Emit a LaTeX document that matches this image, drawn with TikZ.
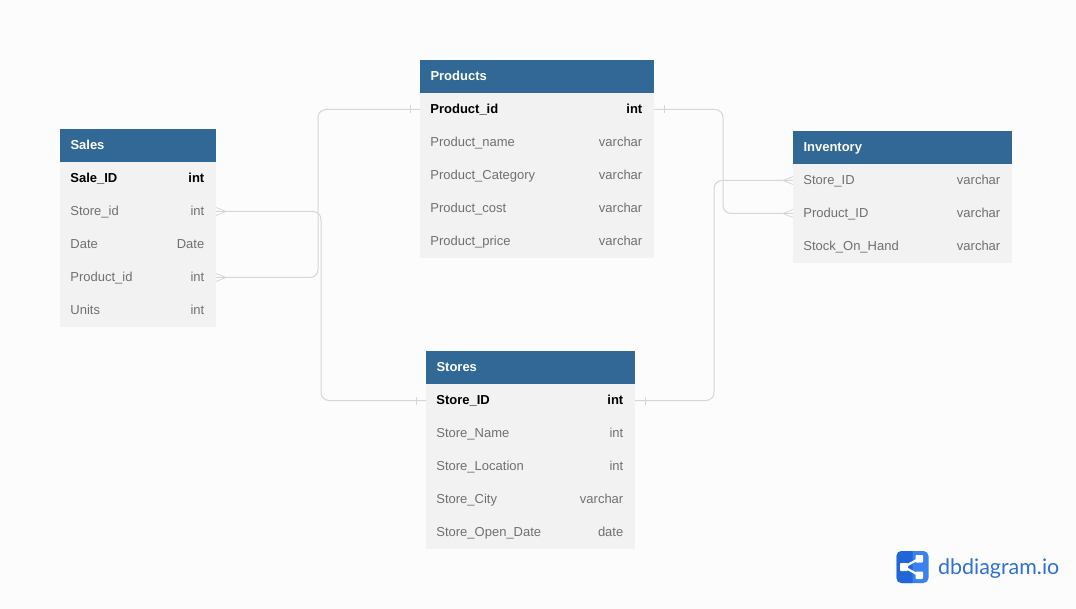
\documentclass[tikz,border=0pt]{standalone}
\usepackage{fontspec}
\setmainfont{Liberation Sans}
\newfontfamily\logofont{Lato}
\definecolor{pagebg}{HTML}{FCFCFC}
\definecolor{headblue}{HTML}{316896}
\definecolor{rowbg}{HTML}{F2F2F2}
\definecolor{fieldgray}{HTML}{707070}
\definecolor{linkgray}{HTML}{D6D6D6}
\definecolor{logoblue}{HTML}{2F6FD6}
\definecolor{logodark}{HTML}{2265D8}
\definecolor{logolight}{HTML}{3B82EE}
\tikzset{
  x=1pt,y=-1pt,
  headbox/.style={fill=headblue,draw=none,anchor=north west,inner sep=0,outer sep=0},
  rowbox/.style={fill=rowbg,draw=none,anchor=north west,inner sep=0,outer sep=0},
  headtext/.style={anchor=base west,inner sep=0,text=white,font=\fontsize{13}{15}\selectfont\bfseries},
  nametext/.style={anchor=base west,inner sep=0,text=fieldgray,font=\fontsize{13}{15}\selectfont},
  typetext/.style={anchor=base east,inner sep=0,text=fieldgray,font=\fontsize{13}{15}\selectfont},
  pkname/.style={nametext,text=black,font=\fontsize{13}{15}\selectfont\bfseries},
  pktype/.style={typetext,text=black,font=\fontsize{13}{15}\selectfont\bfseries},
  link/.style={draw=linkgray,line width=1pt,rounded corners=8pt},
  tickmark/.style={draw=linkgray,line width=0.8pt},
}
% \headrow{id}{x}{y}{w}{title}
\newcommand{\headrow}[5]{%
  \node[headbox,minimum width=#4pt,minimum height=33pt] (#1) at (#2,#3) {};
  \node[headtext] (#1-t) at ({#2+10.3},{#3+20.3}) {#5};
}
% \fieldrow{id}{x}{y}{w}{name}{type}{namestyle}{typestyle}
\newcommand{\fieldrow}[8]{%
  \node[rowbox,minimum width=#4pt,minimum height=33pt] (#1) at (#2,#3) {};
  \node[#7] (#1-n) at ({#2+10.2},{#3+20.8}) {#5};
  \node[#8] (#1-y) at ({#2+#4-11.5},{#3+20.8}) {#6};
}
\begin{document}
\begin{tikzpicture}
\path[fill=pagebg] (0,0) rectangle (1076,609);
\useasboundingbox (0,0) rectangle (1076,609);

% Sales
\headrow{sales}{60}{129}{156}{Sales}
\fieldrow{saleid}{60}{162}{156}{Sale\_ID}{int}{pkname}{pktype}
\fieldrow{salestore}{60}{195}{156}{Store\_id}{int}{nametext}{typetext}
\fieldrow{saledate}{60}{228}{156}{Date}{Date}{nametext}{typetext}
\fieldrow{saleprod}{60}{261}{156}{Product\_id}{int}{nametext}{typetext}
\fieldrow{saleunits}{60}{294}{156}{Units}{int}{nametext}{typetext}

% Products
\headrow{products}{420}{60}{234}{Products}
\fieldrow{prodid}{420}{93}{234}{Product\_id}{int}{pkname}{pktype}
\fieldrow{prodname}{420}{126}{234}{Product\_name}{varchar}{nametext}{typetext}
\fieldrow{prodcat}{420}{159}{234}{Product\_Category}{varchar}{nametext}{typetext}
\fieldrow{prodcost}{420}{192}{234}{Product\_cost}{varchar}{nametext}{typetext}
\fieldrow{prodprice}{420}{225}{234}{Product\_price}{varchar}{nametext}{typetext}

% Stores
\headrow{stores}{426}{351}{209}{Stores}
\fieldrow{storeid}{426}{384}{209}{Store\_ID}{int}{pkname}{pktype}
\fieldrow{storename}{426}{417}{209}{Store\_Name}{int}{nametext}{typetext}
\fieldrow{storeloc}{426}{450}{209}{Store\_Location}{int}{nametext}{typetext}
\fieldrow{storecity}{426}{483}{209}{Store\_City}{varchar}{nametext}{typetext}
\fieldrow{storeopen}{426}{516}{209}{Store\_Open\_Date}{date}{nametext}{typetext}

% Inventory
\headrow{inventory}{793}{131}{219}{Inventory}
\fieldrow{invstore}{793}{164}{219}{Store\_ID}{varchar}{nametext}{typetext}
\fieldrow{invprod}{793}{197}{219}{Product\_ID}{varchar}{nametext}{typetext}
\fieldrow{invstock}{793}{230}{219}{Stock\_On\_Hand}{varchar}{nametext}{typetext}

% Connectors
\draw[link] (salestore.east) -- ++(105,0) |- (storeid.west);
\draw[link] (saleprod.east) -- ++(102,0) |- (prodid.west);
\draw[link] (prodid.east) -- ++(69,0) |- (invprod.west);
\draw[link] (storeid.east) -- ++(79,0) |- (invstore.west);

% Crow's feet (many side): y runs downward in this picture
\foreach \n in {salestore,saleprod}{
  \draw[tickmark] ([yshift=4pt]\n.east) -- ++(10,4) -- ++(-10,4);
}
\foreach \n in {invstore,invprod}{
  \draw[tickmark] ([yshift=4pt]\n.west) -- ++(-10,4) -- ++(10,4);
}
% Single bars (one side)
\draw[tickmark] ([xshift=-10pt,yshift=4pt]prodid.west) -- ++(0,8);
\draw[tickmark] ([xshift=10pt,yshift=4pt]prodid.east) -- ++(0,8);
\draw[tickmark] ([xshift=-10pt,yshift=4pt]storeid.west) -- ++(0,8);
\draw[tickmark] ([xshift=10pt,yshift=4pt]storeid.east) -- ++(0,8);

% Logo
\fill[logolight,rounded corners=5pt] (896.5,551) rectangle (928.5,583);
\begin{scope}
  \clip (896.5,551) rectangle (912.5,583);
  \fill[logodark,rounded corners=5pt] (896.5,551) rectangle (928.5,583);
\end{scope}
\draw[white,line width=2.2pt] (904,567) -- (919.5,558.5) (904,567) -- (919.5,575.5);
\fill[white,rounded corners=0.8pt] (900,563) rectangle (908,571);
\fill[white,rounded corners=0.8pt] (915.5,555) rectangle (923,562.5);
\fill[white,rounded corners=0.8pt] (915.5,571.5) rectangle (923,579);
\node[anchor=base west,inner sep=0,text=logoblue,font=\logofont\fontsize{21.4}{24}\selectfont] (logotext) at (938,574) {dbdiagram.io};
\end{tikzpicture}
\end{document}
